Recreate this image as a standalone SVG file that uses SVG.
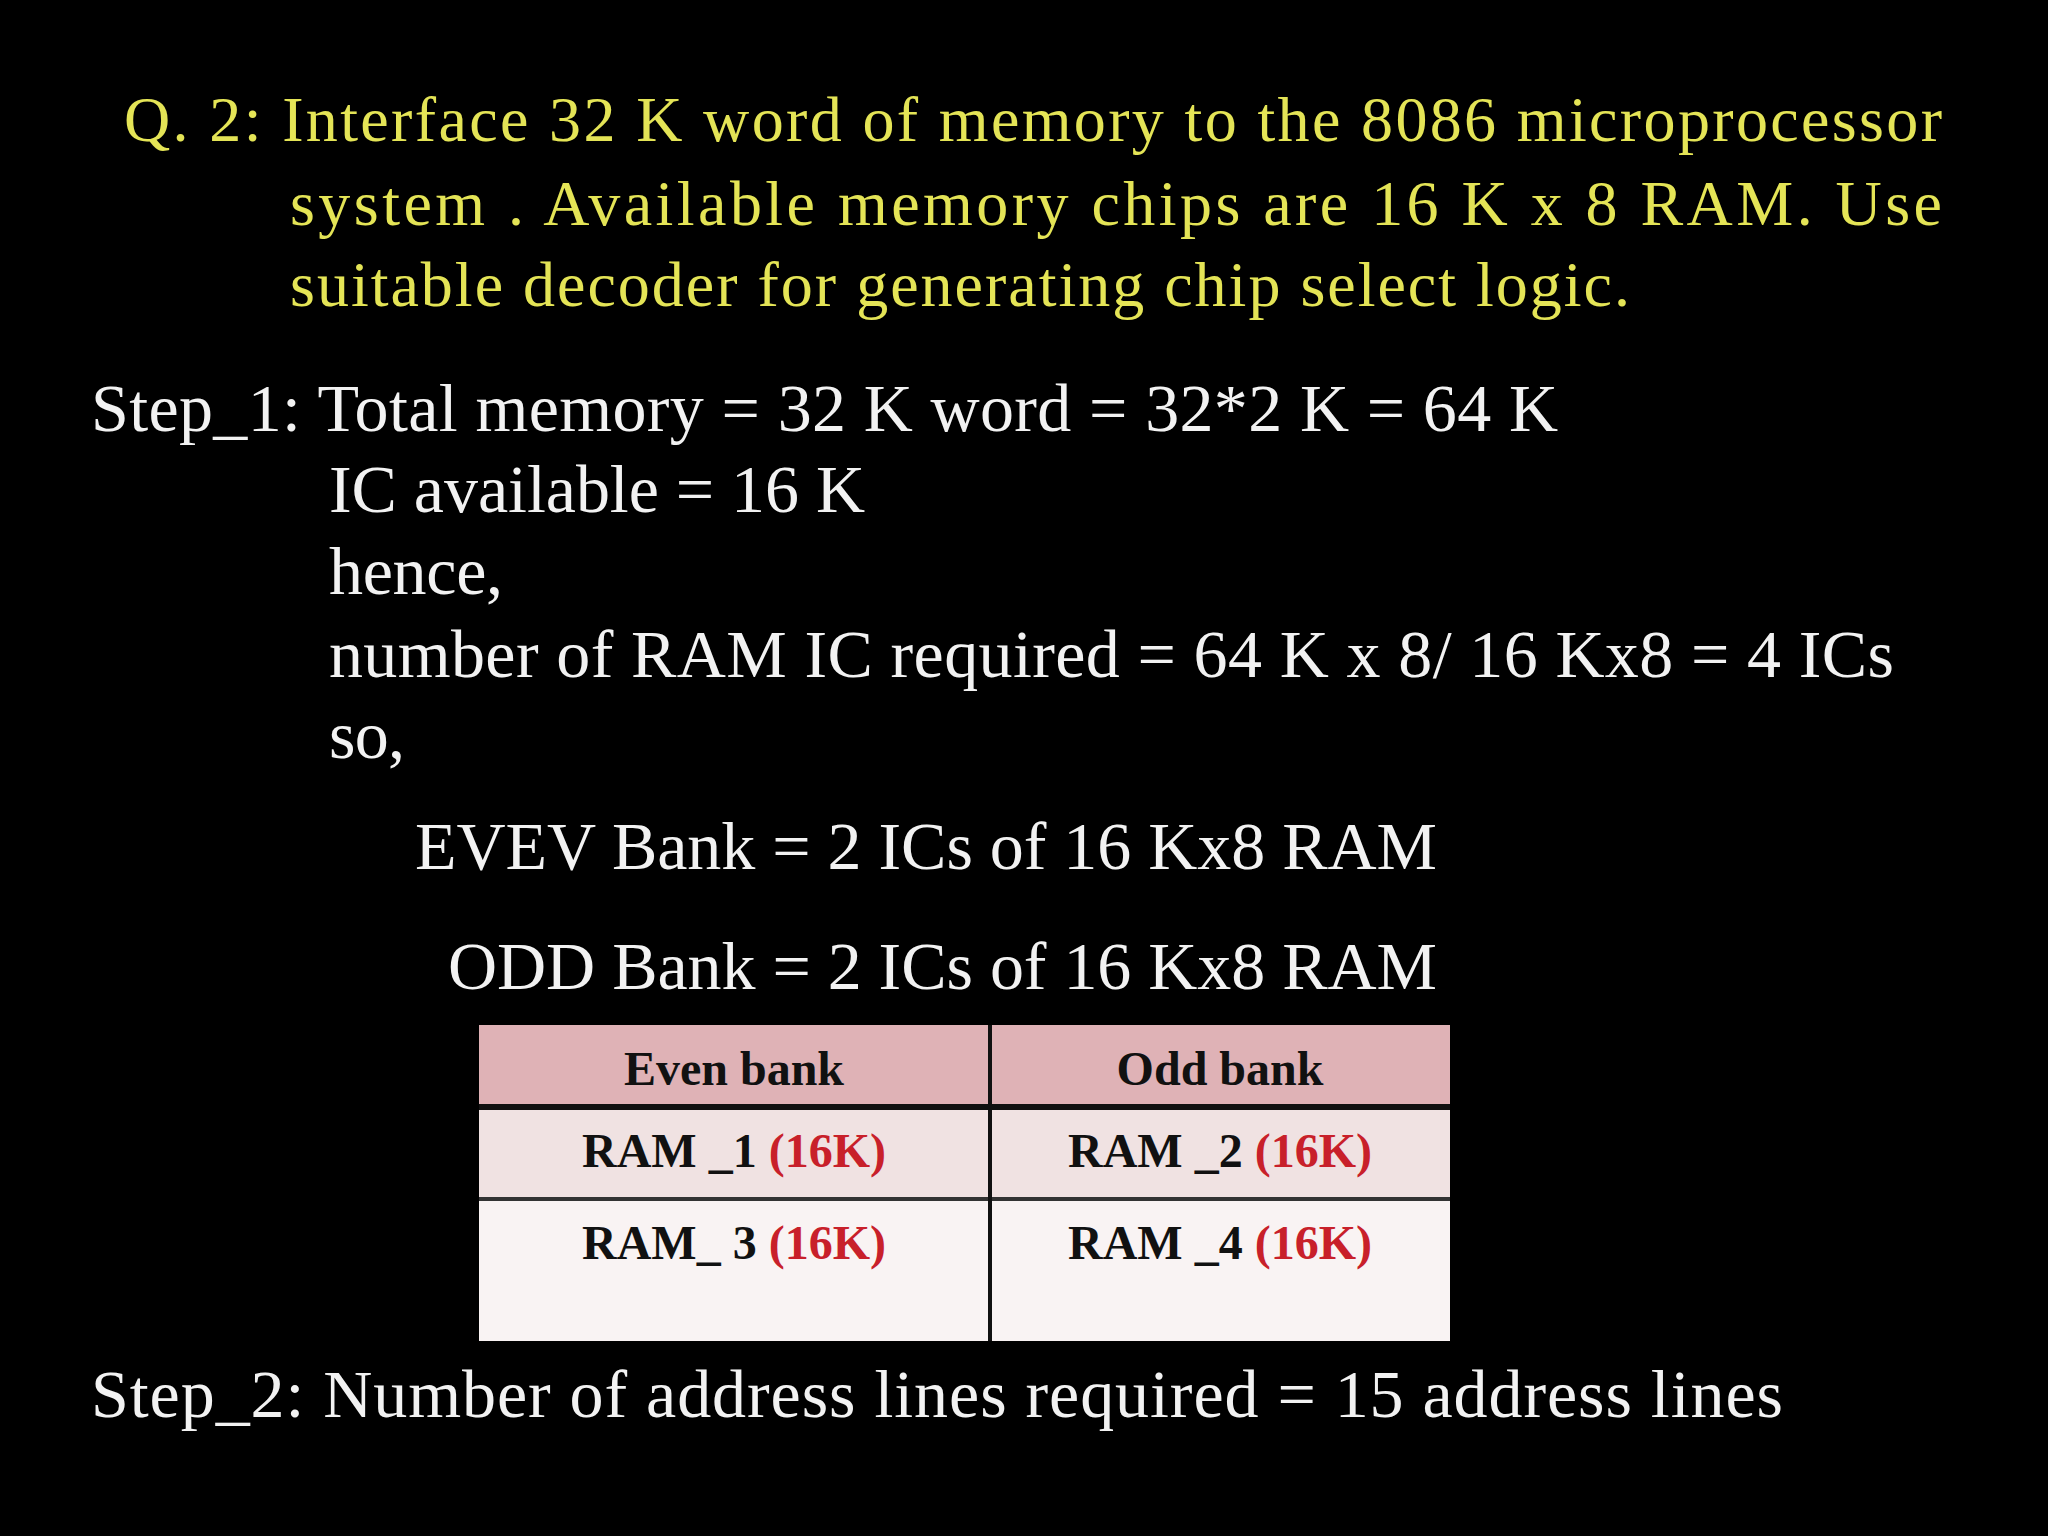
<svg xmlns="http://www.w3.org/2000/svg" width="2048" height="1536" viewBox="0 0 2048 1536" xml:space="preserve">
<style>
.y{font-family:"Liberation Serif",serif;font-size:64px;fill:#e4e456}
.w{font-family:"Liberation Serif",serif;font-size:68px;fill:#f2f2f2}
.t{font-family:"Liberation Serif",serif;font-size:48px;font-weight:bold;fill:#111}
.r{fill:#c8202a}
</style>
<rect width="2048" height="1536" fill="#000"/>
<g id="question">
<text class="y" x="124" y="141" textLength="1818" lengthAdjust="spacing">Q. 2: Interface 32 K word of memory to the 8086 microprocessor</text>
<text class="y" x="290" y="225" textLength="1652" lengthAdjust="spacing">system . Available  memory chips are 16 K x 8 RAM. Use</text>
<text class="y" x="290" y="306" textLength="1340" lengthAdjust="spacing">suitable decoder for generating  chip select logic.</text>
</g>
<g id="step1">
<text class="w" x="91" y="431" textLength="1467" lengthAdjust="spacing">Step_1: Total memory = 32 K word = 32*2 K =  64 K</text>
<text class="w" x="329" y="512" textLength="536" lengthAdjust="spacing">IC available = 16 K</text>
<text class="w" x="329" y="594" textLength="174" lengthAdjust="spacing">hence,</text>
<text class="w" x="329" y="677" textLength="1565" lengthAdjust="spacing">number of RAM  IC required = 64 K x 8/ 16 Kx8 = 4 ICs</text>
<text class="w" x="329" y="758" textLength="76" lengthAdjust="spacing">so,</text>
<text class="w" x="415" y="869" textLength="1022" lengthAdjust="spacing">EVEV Bank = 2 ICs of 16 Kx8 RAM</text>
<text class="w" x="448" y="989" textLength="989" lengthAdjust="spacing">ODD Bank = 2 ICs of 16 Kx8 RAM</text>
</g>
<g id="table">
<rect x="479" y="1025" width="971" height="79" fill="#dfb2b6"/>
<rect x="479" y="1110" width="971" height="88" fill="#f0e2e2"/>
<rect x="479" y="1198" width="971" height="143" fill="#f9f3f3"/>
<line x1="479" y1="1107" x2="1450" y2="1107" stroke="#111" stroke-width="6"/>
<line x1="479" y1="1199" x2="1450" y2="1199" stroke="#333" stroke-width="4"/>
<line x1="990" y1="1025" x2="990" y2="1341" stroke="#111" stroke-width="4"/>
<text class="t" x="734" y="1085" text-anchor="middle">Even bank</text>
<text class="t" x="1220" y="1085" text-anchor="middle">Odd bank</text>
<text class="t" x="734" y="1167" text-anchor="middle">RAM _1 <tspan class="r">(16K)</tspan></text>
<text class="t" x="1220" y="1167" text-anchor="middle">RAM _2 <tspan class="r">(16K)</tspan></text>
<text class="t" x="734" y="1259" text-anchor="middle">RAM_ 3  <tspan class="r">(16K)</tspan></text>
<text class="t" x="1220" y="1259" text-anchor="middle">RAM _4  <tspan class="r">(16K)</tspan></text>
</g>
<g id="step2">
<text class="w" x="91" y="1417" textLength="1692" lengthAdjust="spacing">Step_2:   Number of address lines required =  15 address lines</text>
</g>
</svg>
